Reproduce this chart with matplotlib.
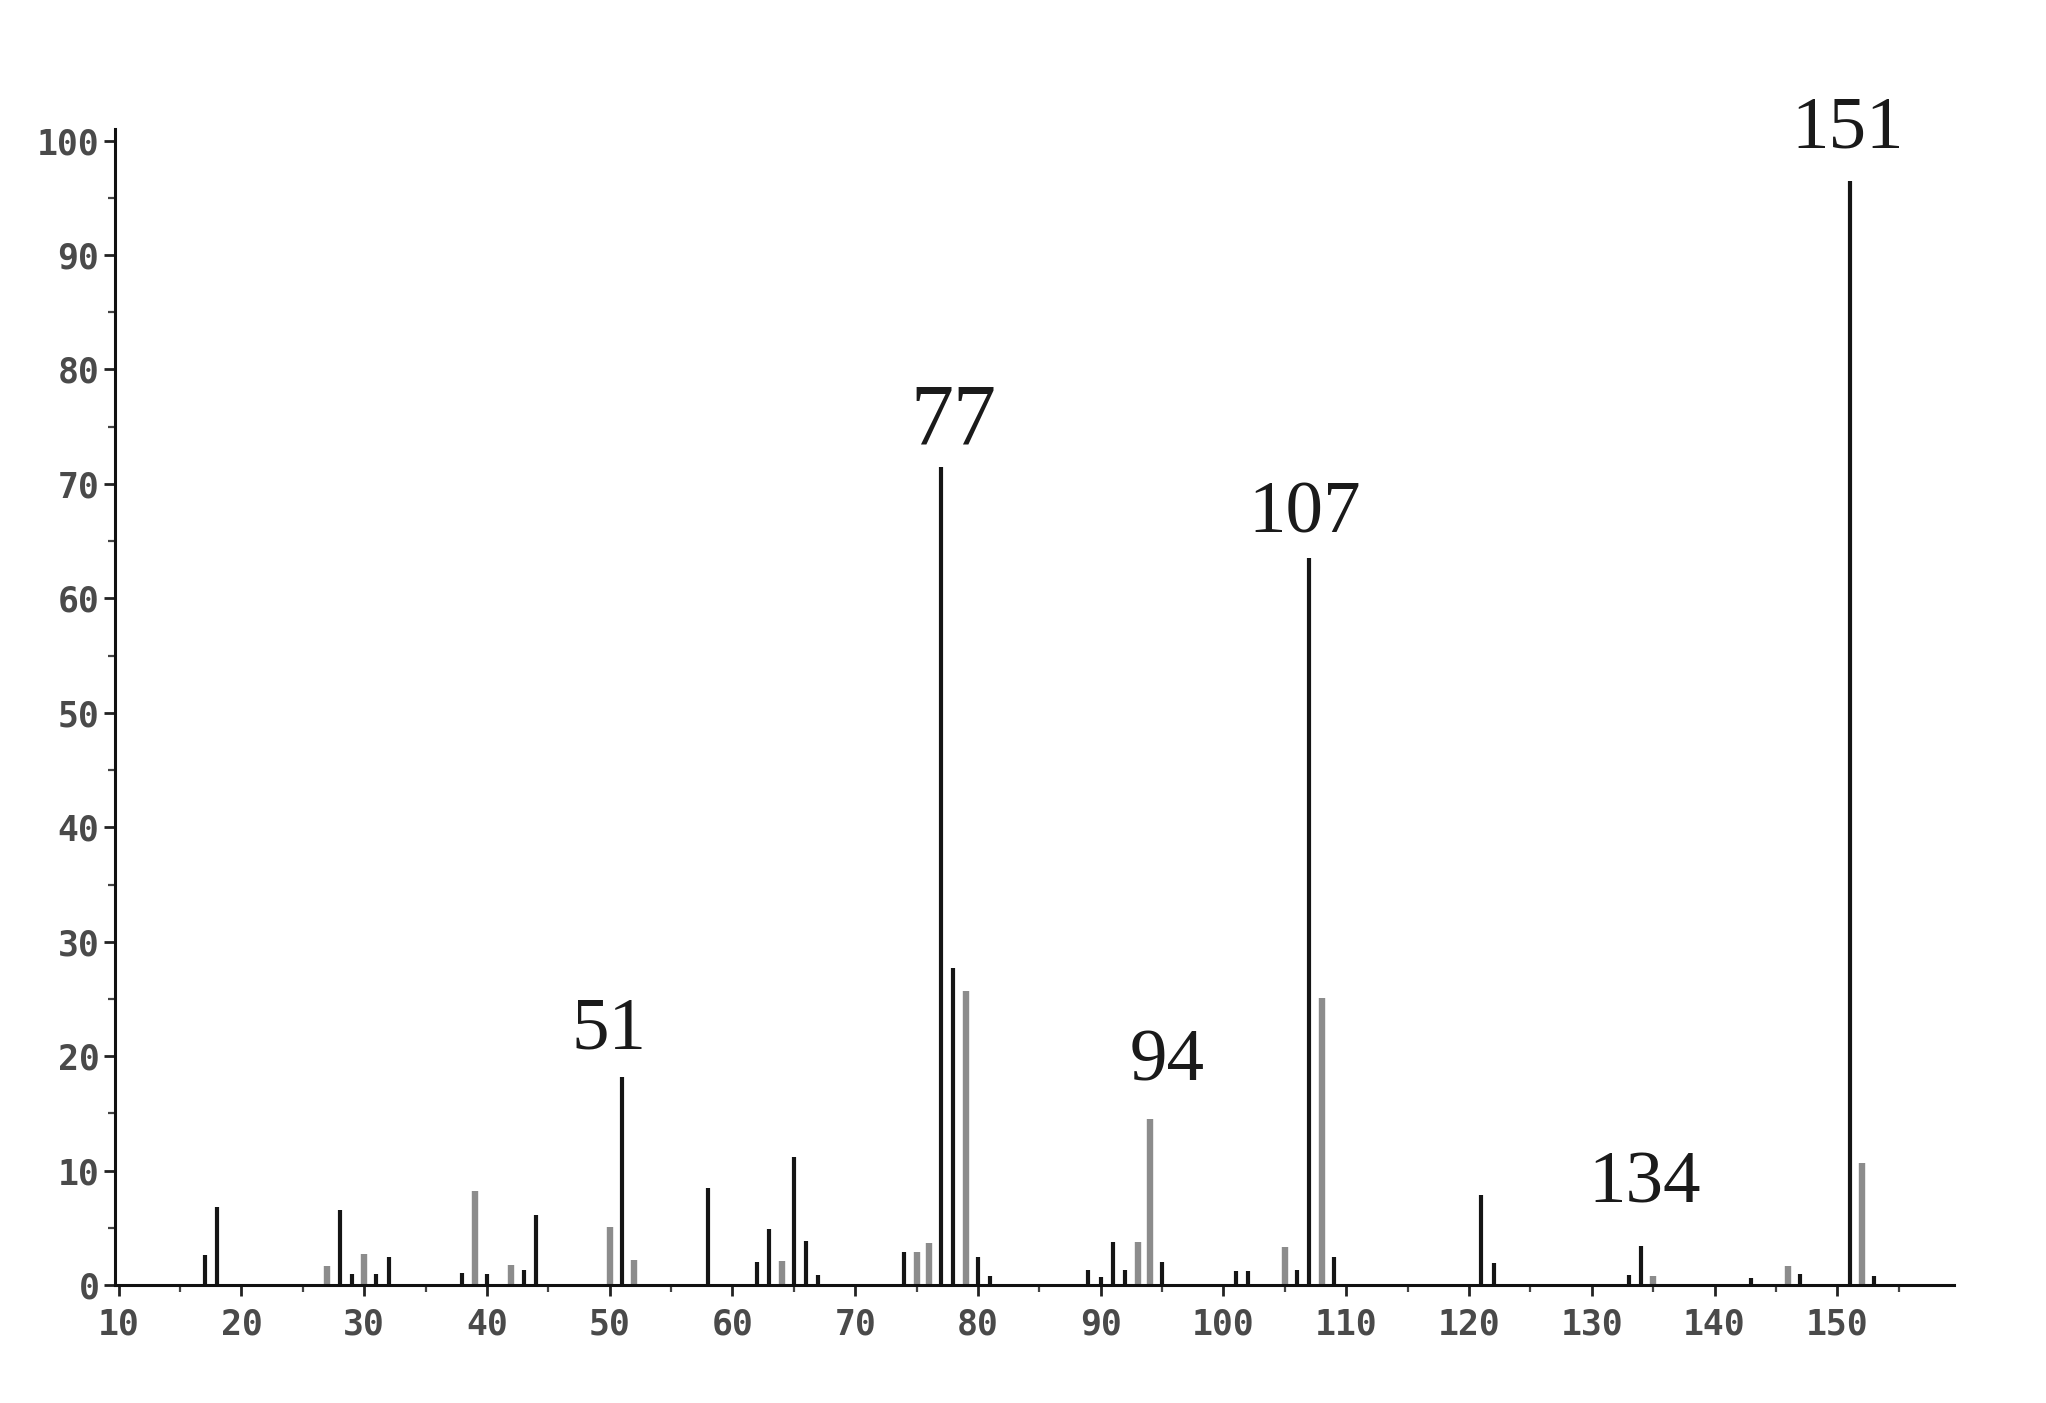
import matplotlib
matplotlib.use("Agg")
import matplotlib.pyplot as plt
from matplotlib.ticker import MultipleLocator

# m/z values and relative intensities (%)
mz = [17, 18, 27, 28, 29, 30, 31, 32, 38, 39, 40, 42, 43, 44, 50, 51, 52,
      58, 62, 63, 64, 65, 66, 67, 74, 75, 76, 77, 78, 79, 80, 81,
      89, 90, 91, 92, 93, 94, 95, 101, 102, 105, 106, 107, 108, 109,
      121, 122, 133, 134, 135, 143, 146, 147, 151, 152, 153]
intensity = [2.6, 6.8, 1.7, 6.6, 1.0, 2.7, 1.0, 2.5, 1.1, 8.2, 1.0, 1.8, 1.3, 6.1, 5.1, 18.2, 2.2,
             8.5, 2.0, 4.9, 2.1, 11.2, 3.9, 0.9, 2.9, 2.9, 3.7, 71.5, 27.7, 25.7, 2.5, 0.8,
             1.3, 0.7, 3.8, 1.3, 3.8, 14.5, 2.0, 1.2, 1.2, 3.3, 1.3, 63.5, 25.1, 2.5,
             7.9, 1.9, 0.9, 3.4, 0.8, 0.6, 1.7, 1.0, 96.5, 10.7, 0.8]
# peaks printed in lighter (grey) ink in the scan
shaded_mz = [27, 30, 39, 42, 50, 52, 64, 75, 76, 79, 93, 94, 105, 108, 135, 146, 152]

# annotated peaks: label, x, y (data coords)
ann_labels = ["51", "77", "94", "107", "134", "151"]
ann_x = [49.9, 78.0, 95.4, 106.6, 134.3, 150.8]
ann_y = [22.2, 75.3, 19.4, 67.3, 8.8, 100.9]

y_ticks = list(range(0, 101, 10))
x_ticks = list(range(10, 151, 10))

fig = plt.figure(figsize=(20.46, 14.03), dpi=100)
ax = fig.add_axes([0.056, 0.084, 0.899, 0.824])

black_x = [m for m in mz if m not in shaded_mz]
black_y = [v for m, v in zip(mz, intensity) if m not in shaded_mz]
grey_x = [m for m in mz if m in shaded_mz]
grey_y = [v for m, v in zip(mz, intensity) if m in shaded_mz]
ax.vlines(black_x, 0, black_y, colors="#151515", linewidth=3.0)
ax.vlines(grey_x, 0, grey_y, colors="#8c8c8c", linewidth=4.6)

for lab, x, y in zip(ann_labels, ann_x, ann_y):
    fs = 62 if lab == "77" else 54
    ax.text(x, y, lab, ha="center", va="center", fontsize=fs,
            family="Liberation Serif", color="#1a1a1a", clip_on=False)

ax.set_xlim(9.67, 159.5)
ax.set_ylim(0, 101)
ax.set_xticks(x_ticks)
ax.set_yticks(y_ticks)
ax.xaxis.set_minor_locator(MultipleLocator(5))
ax.yaxis.set_minor_locator(MultipleLocator(5))

for s in ["top", "right"]:
    ax.spines[s].set_visible(False)
for s in ["left", "bottom"]:
    ax.spines[s].set_linewidth(2.2)
    ax.spines[s].set_color("#111111")

ax.tick_params(axis="both", which="major", length=8, width=2, color="#222222",
               labelsize=25, labelcolor="#4a4a4a")
ax.tick_params(axis="both", which="minor", length=5, width=1.6, color="#444444")
ax.tick_params(axis="x", which="major", pad=8)
ax.tick_params(axis="y", which="major", pad=3)
for lbl in ax.get_xticklabels() + ax.get_yticklabels():
    lbl.set_family("DejaVu Sans Mono")
    lbl.set_fontweight("bold")

fig.savefig("out.png", dpi=100, facecolor="white")
